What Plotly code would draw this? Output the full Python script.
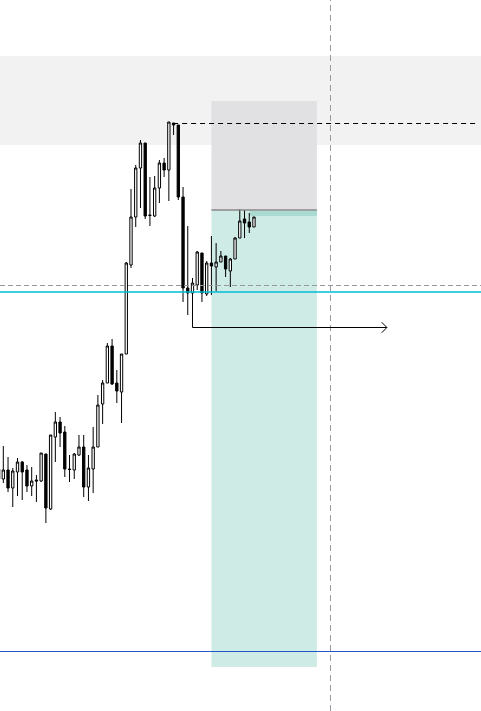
import plotly.graph_objects as go

# candle data (arbitrary price units)
opens  = [521, 521, 530, 512, 528, 538, 530, 514, 520, 519, 546, 491, 563, 578, 568,
          531, 530, 545, 553, 513, 531, 553, 596, 617, 654, 617, 608, 646, 735, 783,
          832, 857, 785, 784, 812, 837, 830, 877, 875, 803, 712, 707, 715, 747, 706,
          737, 733, 738, 744, 729, 741, 762, 781, 778, 773]
highs  = [535, 554, 543, 532, 542, 539, 535, 533, 525, 547, 546, 565, 588, 583, 574,
          545, 547, 565, 565, 545, 573, 605, 620, 657, 661, 630, 646, 738, 811, 835,
          860, 857, 823, 824, 840, 842, 878, 877, 875, 813, 774, 722, 749, 747, 739,
          764, 757, 749, 744, 742, 763, 791, 790, 787, 783]
lows   = [515, 517, 508, 493, 504, 500, 508, 504, 498, 518, 477, 490, 538, 553, 523,
          518, 521, 544, 503, 499, 507, 553, 576, 617, 615, 597, 577, 646, 732, 773,
          792, 781, 774, 783, 797, 823, 799, 865, 800, 698, 685, 707, 710, 698, 704,
          705, 709, 738, 723, 713, 741, 762, 762, 767, 773]
closes = [531, 530, 512, 529, 538, 528, 514, 519, 519, 547, 492, 565, 578, 567, 531,
          530.5, 546, 553, 513, 532, 553, 595, 617, 654, 616, 609, 646, 737, 783, 832,
          857, 784, 784.5, 812, 837, 830, 878, 875, 803, 712, 707, 717, 748, 707, 737,
          734, 738, 744, 731, 741, 762, 779, 777, 773, 783]
bars = list(range(len(opens)))

# drawing levels
zone_top, zone_bot = 944, 855          # grey band
sl_top, entry, tp_bot = 899, 790, 333  # position tool
pos_left, pos_right = 45, 67.3
top_line = 876.5
grey_dash = 714.5
cyan_level = 708
blue_level = 348.5
vline_bar = 70.17

fig = go.Figure()
fig.add_trace(go.Candlestick(
    x=bars, open=opens, high=highs, low=lows, close=closes,
    increasing=dict(line=dict(color="black", width=1), fillcolor="white"),
    decreasing=dict(line=dict(color="black", width=1), fillcolor="black"),
    whiskerwidth=0, showlegend=False, hoverinfo="skip"))

shapes = [
    dict(type="rect", xref="paper", x0=0, x1=1, y0=zone_bot, y1=zone_top,
         fillcolor="#f2f2f2", line_width=0, layer="below"),
    dict(type="rect", x0=pos_left, x1=pos_right, y0=entry, y1=sl_top,
         fillcolor="#e1e1e4", line_width=0, layer="below"),
    dict(type="rect", x0=pos_left, x1=pos_right, y0=tp_bot, y1=entry,
         fillcolor="#ceebe6", line_width=0, layer="below"),
    dict(type="rect", x0=53.1, x1=pos_right, y0=784, y1=789,
         fillcolor="#a9dbd2", line_width=0, layer="below"),
    dict(type="line", x0=pos_left, x1=pos_right, y0=entry, y1=entry,
         line=dict(color="#888888", width=1.5)),
    dict(type="line", x0=36.9, x1=101.5, y0=top_line, y1=top_line,
         line=dict(color="black", width=1, dash="5px,4px")),
    dict(type="line", xref="paper", x0=0, x1=1, y0=grey_dash, y1=grey_dash,
         line=dict(color="#9598a1", width=1, dash="5px,3px")),
    dict(type="line", xref="paper", x0=0, x1=1, y0=cyan_level, y1=cyan_level,
         line=dict(color="#00bcd4", width=1.5)),
    dict(type="line", xref="paper", x0=0, x1=1, y0=blue_level, y1=blue_level,
         line=dict(color="#2456c8", width=1)),
    dict(type="line", yref="paper", x0=vline_bar, x1=vline_bar, y0=0, y1=1,
         line=dict(color="#9598a1", width=1, dash="6px,4px")),
    dict(type="path", path="M 41,707 L 41,672.5 L 82.1,672.5",
         line=dict(color="black", width=1)),
    dict(type="path", path="M 81,677.8 L 82.1,672.5 L 81,667.2",
         line=dict(color="black", width=1)),
]

fig.update_layout(
    width=481, height=711,
    margin=dict(l=0, r=0, t=0, b=0),
    paper_bgcolor="white", plot_bgcolor="white",
    shapes=shapes,
    xaxis=dict(range=[0.3, 102.0], visible=False, rangeslider=dict(visible=False),
               showgrid=False, zeroline=False),
    yaxis=dict(range=[289, 1000], visible=False, showgrid=False, zeroline=False),
)

fig.write_html("out.html", config={"displayModeBar": False},
               post_script="document.body.style.margin='0';")
